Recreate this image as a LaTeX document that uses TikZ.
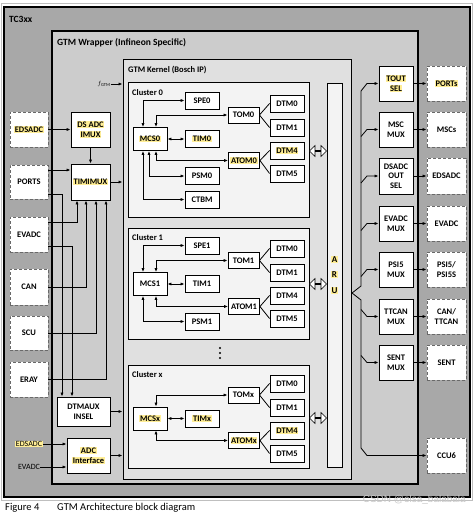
\documentclass[tikz,border=0pt]{standalone}
\usepackage{fontspec}
\setmainfont{Carlito}
\usetikzlibrary{arrows.meta,shapes.arrows}

\definecolor{tcGray}{RGB}{168,168,168}
\definecolor{wrapGray}{RGB}{204,204,204}
\definecolor{kernGray}{RGB}{224,224,224}
\definecolor{clusterGray}{RGB}{243,243,243}
\definecolor{hlYellow}{RGB}{255,238,150}
\definecolor{extGray}{RGB}{105,105,105}
\definecolor{markGray}{RGB}{200,200,200}

\newcommand{\hlt}[1]{{\setlength{\fboxsep}{0.6pt}\colorbox{hlYellow}{#1}}}

\tikzset{
  blk/.style={draw, fill=white, line width=0.9pt, inner sep=0pt, align=center,
    font=\bfseries\fontsize{8.5}{10}\selectfont, minimum width=34pt, minimum height=17pt},
  mcsblk/.style={blk, minimum height=23pt},
  tomblk/.style={blk, minimum width=31pt, minimum height=16pt},
  muxblk/.style={blk, minimum height=35pt},
  extblk/.style={blk, draw=extGray, dash pattern=on 3pt off 2pt, minimum width=39pt, minimum height=35pt},
  areabox/.style={draw, line width=1pt, inner sep=0pt},
  areatitle/.style={anchor=north west, inner sep=0pt, font=\bfseries\fontsize{9.5}{11}\selectfont},
  sig/.style={line width=0.8pt, -{Latex[length=4pt,width=3.2pt]}},
  bisig/.style={line width=0.8pt, {Latex[length=4pt,width=3.2pt]}-{Latex[length=4pt,width=3.2pt]}},
  aruport/.style={double arrow, draw, fill=white, line width=0.6pt, minimum width=11pt,
    minimum height=17pt, double arrow head extend=3pt, inner sep=0pt}
}

\begin{document}
\begin{tikzpicture}[x=1pt,y=-1pt]
  \useasboundingbox (0,0) rectangle (474,516);
  % Areas
  \draw[gray!50, line width=1pt] (1.5,4) rectangle (472.5,500);
  \node[areabox, fill=tcGray, line width=1.2pt, minimum width=466pt, minimum height=490pt] (tc) at (237,252) {};
  \node[areatitle] (tct) at (9,16) {TC3xx};
  \node[areabox, fill=wrapGray, line width=1.2pt, minimum width=366pt, minimum height=453pt] (wrap) at (235,257.5) {};
  \node[areatitle] (wrapt) at (57,38) {GTM Wrapper (Infineon Specific)};
  \node[areabox, fill=kernGray, minimum width=228pt, minimum height=419pt] (kernel) at (237,269.5) {};
  \node[areatitle, font=\bfseries\fontsize{8.5}{10}\selectfont] (kernelt) at (128,66) {GTM Kernel (Bosch IP)};
  \node[inner sep=0pt, font=\fontsize{6.5}{7}\selectfont] (fgtm) at (104,84) {$f_{\mathrm{GTM}}$};
  \draw[sig] (fgtm.east) -- (fgtm.east -| kernel.west);

  % Cluster 0
  \node[areabox, fill=clusterGray, minimum width=181pt, minimum height=134pt] (cl0) at (218.5,150) {};
  \node[areatitle, font=\bfseries\fontsize{8.5}{10}\selectfont] (cl0t) at (132,89) {Cluster 0};
  \node[blk] (spe0) at (202,100.5) {SPE0};
  \node[tomblk] (tom0) at (243.5,115) {TOM0};
  \node[mcsblk] (mcs0) at (150,139) {\hlt{MCS0}};
  \node[blk] (tim0) at (202,139) {\hlt{TIM0}};
  \node[tomblk] (atom0) at (244,160.5) {\hlt{ATOM0}};
  \node[blk] (psm0) at (202,176) {PSM0};
  \node[blk] (ctbm0) at (202,199.5) {CTBM};
  \node[blk] (dtm00) at (287,103.5) {DTM0};
  \node[blk] (dtm01) at (287,127.5) {DTM1};
  \node[blk] (dtm04) at (287,150.5) {\hlt{DTM4}};
  \node[blk] (dtm05) at (287,173.5) {DTM5};
  \draw[bisig] ([xshift=-7pt]mcs0.north) |- (spe0.west);
  \draw[bisig] ([xshift=6pt]mcs0.north) |- (tom0.west);
  \draw[bisig] (mcs0.east) -- (tim0.west);
  \draw[bisig] ([xshift=6pt]mcs0.south) |- (atom0.west);
  \draw[bisig] ([xshift=-1pt]mcs0.south) |- (psm0.west);
  \draw[bisig] ([xshift=-7pt]mcs0.south) |- (ctbm0.west);
  \draw[line width=0.8pt] (tom0.east) -- (dtm00.west) (tom0.east) -- (dtm01.west);
  \draw[line width=0.8pt] (atom0.east) -- (dtm04.west) (atom0.east) -- (dtm05.west);

  % Cluster 1
  \node[areabox, fill=clusterGray, minimum width=181pt, minimum height=111pt] (cl1) at (218.5,283.5) {};
  \node[areatitle, font=\bfseries\fontsize{8.5}{10}\selectfont] (cl1t) at (132,234) {Cluster 1};
  \node[blk] (spe1) at (202,245.5) {SPE1};
  \node[tomblk] (tom1) at (243.5,260.5) {TOM1};
  \node[mcsblk] (mcs1) at (150,284) {MCS1};
  \node[blk] (tim1) at (202,284) {TIM1};
  \node[tomblk] (atom1) at (244,306.5) {ATOM1};
  \node[blk] (psm1) at (202,321.5) {PSM1};
  \node[blk] (dtm10) at (287,248.5) {DTM0};
  \node[blk] (dtm11) at (287,272.5) {DTM1};
  \node[blk] (dtm14) at (287,295.5) {DTM4};
  \node[blk] (dtm15) at (287,318.5) {DTM5};
  \draw[bisig] ([xshift=-7pt]mcs1.north) |- (spe1.west);
  \draw[bisig] ([xshift=6pt]mcs1.north) |- (tom1.west);
  \draw[bisig] (mcs1.east) -- (tim1.west);
  \draw[bisig] ([xshift=6pt]mcs1.south) |- (atom1.west);
  \draw[bisig] ([xshift=-7pt]mcs1.south) |- (psm1.west);
  \draw[line width=0.8pt] (tom1.east) -- (dtm10.west) (tom1.east) -- (dtm11.west);
  \draw[line width=0.8pt] (atom1.east) -- (dtm14.west) (atom1.east) -- (dtm15.west);

  % more clusters
  \fill (220,348) circle (1.1pt) (220,353) circle (1.1pt) (220,358) circle (1.1pt);

  % Cluster x
  \node[areabox, fill=clusterGray, minimum width=181pt, minimum height=103pt] (clx) at (218.5,416.5) {};
  \node[areatitle, font=\bfseries\fontsize{8.5}{10}\selectfont] (clxt) at (132,371) {Cluster x};
  \node[tomblk] (tomx) at (243.5,395) {TOMx};
  \node[mcsblk] (mcsx) at (150,418.5) {\hlt{MCSx}};
  \node[blk] (timx) at (202,418.5) {\hlt{TIMx}};
  \node[tomblk] (atomx) at (244,440.5) {\hlt{ATOMx}};
  \node[blk] (dtmx0) at (287,383.5) {DTM0};
  \node[blk] (dtmx1) at (287,407.5) {DTM1};
  \node[blk] (dtmx4) at (287,430.5) {\hlt{DTM4}};
  \node[blk] (dtmx5) at (287,453.5) {DTM5};
  \draw[bisig] ([xshift=6pt]mcsx.north) |- (tomx.west);
  \draw[bisig] (mcsx.east) -- (timx.west);
  \draw[bisig] ([xshift=6pt]mcsx.south) |- (atomx.west);
  \draw[line width=0.8pt] (tomx.east) -- (dtmx0.west) (tomx.east) -- (dtmx1.west);
  \draw[line width=0.8pt] (atomx.east) -- (dtmx4.west) (atomx.east) -- (dtmx5.west);

  % ARU
  \node[areabox, fill=clusterGray, line width=0.8pt, minimum width=15pt, minimum height=384pt,
    align=center, font=\bfseries\fontsize{9}{15.5}\selectfont] (aru) at (334.5,275) {\hlt{A}\\\hlt{R}\\\hlt{U}};
  \node[aruport] (port0) at (318,151) {};
  \node[aruport] (port1) at (318,284) {};
  \node[aruport] (portx) at (318,418) {};

  % Inputs
  \node[extblk, minimum width=38pt] (edsadcL) at (29,129.5) {\hlt{EDSADC}};
  \node[extblk, minimum width=38pt, minimum height=34pt] (portsL) at (29,182) {PORTS};
  \node[extblk, minimum width=38pt] (evadcL) at (29,234.5) {EVADC};
  \node[extblk, minimum width=38pt, minimum height=36pt] (canL) at (29,287) {CAN};
  \node[extblk, minimum width=38pt, minimum height=34pt] (scuL) at (29,333) {SCU};
  \node[extblk, minimum width=38pt] (erayL) at (29,379.5) {ERAY};
  \node[muxblk, minimum width=39pt] (dsadcimux) at (90.5,129.5) {\hlt{DS ADC}\\\hlt{IMUX}};
  \node[muxblk, minimum width=39pt, minimum height=36pt] (timimux) at (90.5,182) {\hlt{TIMIMUX}};
  \node[blk, minimum width=53pt, minimum height=29pt] (dtmaux) at (83.5,411.5) {DTMAUX\\INSEL};
  \node[muxblk, minimum width=43pt] (adcif) at (88.5,455.5) {\hlt{ADC}\\\hlt{Interface}};
  \node[inner sep=0pt, font=\fontsize{8}{9}\selectfont] (edsadcIn) at (29,444) {\hlt{EDSADC}};
  \node[inner sep=0pt, font=\fontsize{8}{9}\selectfont] (evadcIn) at (29,467) {EVADC};
  \draw[sig] (edsadcL.east) -- (dsadcimux.west);
  \draw[sig] (dsadcimux.south) -- (timimux.north);
  \draw[sig] ([yshift=12pt]portsL.east) -- ([yshift=12pt]timimux.west);
  \draw[sig] ([yshift=-12pt]portsL.east) -| ([xshift=-21.5pt]dtmaux.north);
  \draw[sig] ([yshift=12.5pt]evadcL.east) -| ([xshift=-13.5pt]timimux.south);
  \draw[sig] ([yshift=-11.5pt]evadcL.east) -| ([xshift=-11.5pt]dtmaux.north);
  \draw[sig] (canL.east) -| ([xshift=-4.5pt]timimux.south);
  \draw[sig] (scuL.east) -| ([xshift=5.5pt]timimux.south);
  \draw[sig] (erayL.east) -| ([xshift=15.5pt]timimux.south);
  \draw[sig] (edsadcIn.east) -- (edsadcIn.east -| adcif.west);
  \draw[sig] (evadcIn.east) -- (evadcIn.east -| adcif.west);
  \draw[sig] (timimux.east) -- (timimux.east -| kernel.west);
  \draw[sig] (dtmaux.east) -- (dtmaux.east -| kernel.west);
  \draw[sig] (adcif.east) -- (adcif.east -| kernel.west);

  % Outputs
  \node[muxblk] (toutsel) at (396,83.5) {\hlt{TOUT}\\\hlt{SEL}};
  \node[muxblk] (mscmux) at (396,129.5) {MSC\\MUX};
  \node[muxblk, minimum height=36pt, font=\bfseries\fontsize{8.5}{9.5}\selectfont] (dsadcsel) at (396,176) {DSADC\\OUT\\SEL};
  \node[muxblk] (evadcmux) at (396,223.5) {EVADC\\MUX};
  \node[muxblk] (psimux) at (396,269.5) {PSI5\\MUX};
  \node[muxblk] (ttcanmux) at (396,316.5) {TTCAN\\MUX};
  \node[muxblk] (sentmux) at (396,362.5) {SENT\\MUX};
  \node[extblk] (portsR) at (446.5,83.5) {\hlt{PORTs}};
  \node[extblk] (mscsR) at (446.5,129.5) {MSCs};
  \node[extblk, minimum height=36pt] (edsadcR) at (446.5,176) {EDSADC};
  \node[extblk] (evadcR) at (446.5,223.5) {EVADC};
  \node[extblk] (psiR) at (446.5,269.5) {PSI5/\\PSI5S};
  \node[extblk] (canR) at (446.5,316.5) {CAN/\\TTCAN};
  \node[extblk] (sentR) at (446.5,362.5) {SENT};
  \node[extblk] (ccu6R) at (446.5,455.5) {CCU6};
  \coordinate (kout) at (352,293);
  \draw[sig] (kout) -- ++(9,-7) -- ++(0,-195) -- ++(6,-7.5) -- (toutsel.west);
  \draw[sig] (kout) -- ++(9,7) -- ++(0,148) -- ++(6,7.5) -- (ccu6R.west);
  \draw[sig] (kout |- mscmux) ++(9,7) -- ++(6,-7) -- (mscmux.west);
  \draw[sig] (kout |- dsadcsel) ++(9,7) -- ++(6,-7) -- (dsadcsel.west);
  \draw[sig] (kout |- evadcmux) ++(9,7) -- ++(6,-7) -- (evadcmux.west);
  \draw[sig] (kout |- psimux) ++(9,7) -- ++(6,-7) -- (psimux.west);
  \draw[sig] (kout |- ttcanmux) ++(9,-7) -- ++(6,7) -- (ttcanmux.west);
  \draw[sig] (kout |- sentmux) ++(9,-7) -- ++(6,7) -- (sentmux.west);
  \draw[sig] (toutsel.east) -- (portsR.west);
  \draw[sig] (mscmux.east) -- (mscsR.west);
  \draw[sig] (dsadcsel.east) -- (edsadcR.west);
  \draw[sig] (evadcmux.east) -- (evadcR.west);
  \draw[sig] (psimux.east) -- (psiR.west);
  \draw[sig] (ttcanmux.east) -- (canR.west);
  \draw[sig] (sentmux.east) -- (sentR.west);

  % Caption
  \node[anchor=west, inner sep=0pt, font=\fontsize{10.5}{12}\selectfont] (fig) at (5,508) {Figure 4};
  \node[anchor=west, inner sep=0pt, font=\fontsize{10.5}{12}\selectfont] (cap) at (57,508) {GTM Architecture block diagram};
  \node[anchor=east, inner sep=0pt, text=markGray, font=\fontspec{Liberation Sans}\fontsize{10}{12}\selectfont] (mark) at (466,500) {CSDN @elsa\_balabala};
\end{tikzpicture}
\end{document}
